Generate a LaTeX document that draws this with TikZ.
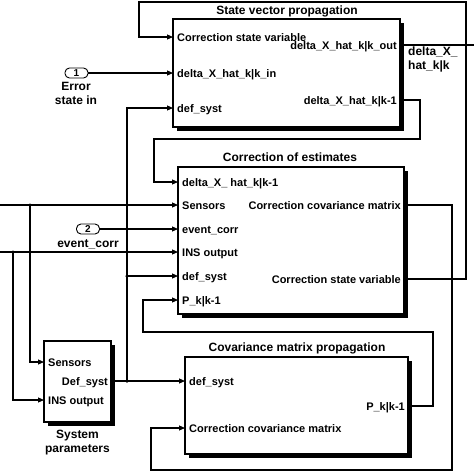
\documentclass[tikz,border=0pt]{standalone}
\usepackage{fontspec}
\setmainfont{Liberation Sans}
\usetikzlibrary{arrows.meta,shadows}
\begin{document}
\begin{tikzpicture}[x=1pt,y=-1pt,
  wire/.style={line width=1.1pt,black},
  arr/.style={wire,-{Triangle[length=6pt,width=5pt]}},
  blk/.style={draw,fill=white,line width=1.1pt,inner sep=0pt,
    drop shadow={shadow xshift=3.5pt,shadow yshift=-3.5pt,fill=black,opacity=1}},
  pl/.style={font=\fontsize{11}{12}\selectfont\bfseries,inner sep=0pt,text height=8pt,text depth=0pt},
  ttl/.style={font=\fontsize{12}{13}\selectfont\bfseries,inner sep=0pt},
  lbl/.style={font=\fontsize{12}{14}\selectfont\bfseries,inner sep=0pt,align=center},
  inport/.style={draw,line width=0.9pt,rounded corners=4.5pt,minimum width=23pt,minimum height=10pt,inner sep=0pt,font=\fontsize{10}{10}\selectfont\bfseries},
  dot/.style={circle,fill=black,inner sep=0pt,minimum size=3.5pt}]
\useasboundingbox (0,0) rectangle (474,474);
\fill[white] (0,0) rectangle (474,474);

% blocks
\node[blk,minimum width=227pt,minimum height=108pt] (sv) at (286.5,73) {};
\node[blk,minimum width=226pt,minimum height=147pt] (ce) at (291,240.5) {};
\node[blk,minimum width=223pt,minimum height=97pt] (cm) at (296.5,405.5) {};
\node[blk,minimum width=67pt,minimum height=81pt] (sp) at (77.5,381.5) {};

% titles
\node[ttl] (svt) at (287,11) {State vector propagation};
\node[ttl] (cet) at (290,157) {Correction of estimates};
\node[ttl] (cmt) at (297,348) {Covariance matrix propagation};
\node[lbl,anchor=north] (spt) at (77.5,430) {System\\parameters};

% port labels: state vector propagation
\node[pl,anchor=west] (svl1) at (177,37) {Correction state variable};
\node[pl,anchor=west] (svl2) at (177,73) {delta\_X\_hat\_k|k\_in};
\node[pl,anchor=west] (svl3) at (177,108) {def\_syst};
\node[pl,anchor=east] (svr1) at (397,45) {delta\_X\_hat\_k|k\_out};
\node[pl,anchor=east] (svr2) at (397,100) {delta\_X\_hat\_k|k-1};
% correction of estimates
\node[pl,anchor=west] (cel1) at (182,182) {delta\_X\_ hat\_k|k-1};
\node[pl,anchor=west] (cel2) at (182,205) {Sensors};
\node[pl,anchor=west] (cel3) at (182,229) {event\_corr};
\node[pl,anchor=west] (cel4) at (182,252) {INS output};
\node[pl,anchor=west] (cel5) at (182,276) {def\_syst};
\node[pl,anchor=west] (cel6) at (182,300) {P\_k|k-1};
\node[pl,anchor=east] (cer1) at (401,205) {Correction covariance matrix};
\node[pl,anchor=east] (cer2) at (401,279) {Correction state variable};
% covariance matrix propagation
\node[pl,anchor=west] (cml1) at (189,381) {def\_syst};
\node[pl,anchor=west] (cml2) at (189,428) {Correction covariance matrix};
\node[pl,anchor=east] (cmr1) at (405,406) {P\_k|k-1};
% system parameters
\node[pl,anchor=west] (spl1) at (48,362) {Sensors};
\node[pl,anchor=west] (spl2) at (48,400) {INS output};
\node[pl,anchor=east] (spr1) at (108,381) {Def\_syst};

% inports
\node[inport] (in1) at (76.5,73) {1};
\node[lbl,anchor=north] (in1l) at (76,82) {Error\\state in};
\node[inport] (in2) at (88,229) {2};
\node[lbl,anchor=north] (in2l) at (88,239) {event\_corr};

% outgoing label
\node[lbl,align=left,anchor=north west] (outl) at (408,47) {delta\_X\_\\hat\_k|k};

% port coordinates
\coordinate (svi1) at (173,37);
\coordinate (svi2) at (173,73);
\coordinate (svi3) at (173,108);
\coordinate (svo1) at (400,45);
\coordinate (svo2) at (400,100);
\coordinate (cei1) at (178,182);
\coordinate (cei2) at (178,205);
\coordinate (cei3) at (178,229);
\coordinate (cei4) at (178,252);
\coordinate (cei5) at (178,276);
\coordinate (cei6) at (178,300);
\coordinate (ceo1) at (404,205);
\coordinate (ceo2) at (404,279);
\coordinate (cmi1) at (185,381);
\coordinate (cmi2) at (185,428);
\coordinate (cmo1) at (408,406);
\coordinate (spi1) at (44,362);
\coordinate (spi2) at (44,400);
\coordinate (spo1) at (111,381);
\coordinate (sL) at (0,205);
\coordinate (iL) at (0,252);
\coordinate (oR) at (474,45);

% junctions
\node[dot] (j1) at (127,381) {};
\node[dot] (j2) at (127,276) {};
\node[dot] (j3) at (30,205) {};
\node[dot] (j4) at (13,252) {};

% bends
\coordinate (b1) at (466,2);
\coordinate (b2) at (139,2);
\coordinate (b3) at (420,139);
\coordinate (b4) at (154,139);
\coordinate (b5) at (433,332);
\coordinate (b6) at (143,332);
\coordinate (b7) at (452,470);
\coordinate (b8) at (151,470);

% connectors
\draw[arr] (ceo2) -| (b1) -- (b2) |- (svi1);
\draw[arr] (in1.east) -- (svi2);
\draw[wire] (svo1) -- (oR);
\draw[arr] (spo1) -- (cmi1);
\draw[arr] (j1.center) |- (svi3);
\draw[arr] (j2.center) -- (cei5);
\draw[arr] (svo2) -| (b3) -- (b4) |- (cei1);
\draw[arr] (sL) -- (cei2);
\draw[arr] (j3.center) |- (spi1);
\draw[arr] (iL) -- (cei4);
\draw[arr] (j4.center) |- (spi2);
\draw[arr] (in2.east) -- (cei3);
\draw[arr] (cmo1) -| (b5) -- (b6) |- (cei6);
\draw[arr] (ceo1) -| (b7) -- (b8) |- (cmi2);
\end{tikzpicture}
\end{document}
